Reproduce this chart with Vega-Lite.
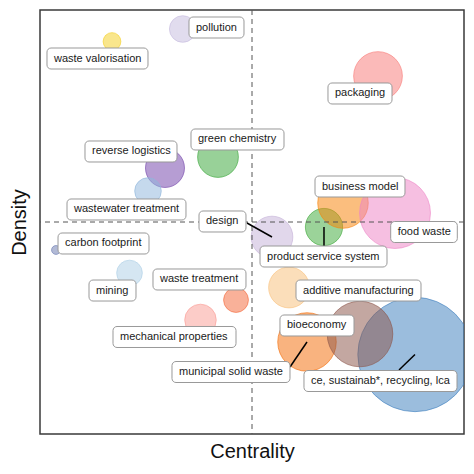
{
  "$schema": "https://vega.github.io/schema/vega-lite/v6.json",
  "width": 424,
  "height": 424,
  "autosize": "none",
  "padding": {"left": 40, "top": 10, "right": 10, "bottom": 40},
  "background": "white",
  "config": {
    "view": {"stroke": "#3a3a3a", "strokeWidth": 1.5},
    "font": "Liberation Sans",
    "axis": {"domain": false, "ticks": false, "labels": false, "grid": false, "titleFontSize": 20, "titleFontWeight": "normal", "titleColor": "#111111", "titleFont": "Liberation Sans", "titleBaseline": "alphabetic"},
    "axisX": {"titlePadding": 23},
    "axisY": {"titlePadding": 15}
  },
  "data": {
    "values": [
      {"theme": "ce, sustainab*, recycling, lca", "centrality": 88.44, "density": 18.75, "docs": 4160, "lx1": 62.26, "lx2": 98.35, "ly": 12.50, "sx": 84.67, "sy": 15.09},
      {"theme": "municipal solid waste", "centrality": 62.97, "density": 21.70, "docs": 1089, "lx1": 31.13, "lx2": 58.96, "ly": 14.62, "sx": 58.96, "sy": 15.80},
      {"theme": "additive manufacturing", "centrality": 75.47, "density": 23.58, "docs": 1369, "lx1": 60.38, "lx2": 89.86, "ly": 33.84},
      {"theme": "bioeconomy", "centrality": 58.73, "density": 34.55, "docs": 529, "lx1": 56.60, "lx2": 74.06, "ly": 25.59},
      {"theme": "product service system", "centrality": 66.98, "density": 48.82, "docs": 441, "lx1": 51.89, "lx2": 81.84, "ly": 41.86, "sx": 66.98, "sy": 44.34},
      {"theme": "business model", "centrality": 71.46, "density": 54.48, "docs": 812, "lx1": 64.86, "lx2": 86.08, "ly": 58.37},
      {"theme": "food waste", "centrality": 83.73, "density": 52.12, "docs": 1600, "lx1": 82.71, "lx2": 98.42, "ly": 47.64},
      {"theme": "design", "centrality": 54.72, "density": 46.46, "docs": 552, "lx1": 37.50, "lx2": 48.58, "ly": 50.12, "sx": 48.82, "sy": 49.76},
      {"theme": "packaging", "centrality": 79.72, "density": 84.43, "docs": 756, "lx1": 67.92, "lx2": 83.02, "ly": 80.31},
      {"theme": "pollution", "centrality": 33.66, "density": 95.52, "docs": 225, "lx1": 35.14, "lx2": 48.11, "ly": 95.87},
      {"theme": "waste valorisation", "centrality": 16.98, "density": 92.57, "docs": 100, "lx1": 1.65, "lx2": 25.47, "ly": 88.56},
      {"theme": "green chemistry", "centrality": 41.98, "density": 65.33, "docs": 529, "lx1": 35.61, "lx2": 57.55, "ly": 69.46},
      {"theme": "reverse logistics", "centrality": 29.48, "density": 62.74, "docs": 484, "lx1": 10.61, "lx2": 32.31, "ly": 66.63},
      {"theme": "wastewater treatment", "centrality": 25.47, "density": 57.31, "docs": 225, "lx1": 6.37, "lx2": 34.43, "ly": 52.95},
      {"theme": "carbon footprint", "centrality": 3.77, "density": 43.40, "docs": 25, "lx1": 4.25, "lx2": 25.71, "ly": 44.93},
      {"theme": "mining", "centrality": 21.11, "density": 37.97, "docs": 210, "lx1": 11.56, "lx2": 22.64, "ly": 33.84},
      {"theme": "waste treatment", "centrality": 46.23, "density": 31.60, "docs": 196, "lx1": 26.65, "lx2": 48.58, "ly": 36.44},
      {"theme": "mechanical properties", "centrality": 37.85, "density": 26.89, "docs": 317, "lx1": 17.22, "lx2": 46.23, "ly": 22.88}
    ]
  },
  "layer": [
    {
      "mark": {"type": "circle", "clip": true, "opacity": 1, "fillOpacity": 0.52, "strokeOpacity": 0.62, "strokeWidth": 1},
      "encoding": {
        "x": {"field": "centrality", "type": "quantitative", "title": "Centrality", "scale": {"domain": [0, 100], "nice": false, "zero": false}},
        "y": {"field": "density", "type": "quantitative", "title": "Density", "scale": {"domain": [0, 100], "nice": false, "zero": false}},
        "size": {"field": "docs", "type": "quantitative", "scale": {"type": "linear", "domain": [0, 1000], "range": [0, 3141.6]}, "legend": null},
        "color": {"field": "theme", "type": "nominal", "legend": null, "scale": {
          "domain": ["ce, sustainab*, recycling, lca", "municipal solid waste", "additive manufacturing", "bioeconomy", "product service system", "business model", "food waste", "design", "packaging", "pollution", "waste valorisation", "green chemistry", "reverse logistics", "wastewater treatment", "carbon footprint", "mining", "waste treatment", "mechanical properties"],
          "range": ["#3f80be", "#f36e0a", "#8c564b", "#f8c07b", "#40aa3c", "#f88207", "#ee85c6", "#c5b2d9", "#f87b78", "#c6bbdf", "#f3cf22", "#3aa63a", "#7344aa", "#8fb6dc", "#6b7bb1", "#afd0e6", "#f3693c", "#fa9d96"]}},
        "stroke": {"field": "theme", "type": "nominal", "legend": null, "scale": {
          "domain": ["ce, sustainab*, recycling, lca", "municipal solid waste", "additive manufacturing", "bioeconomy", "product service system", "business model", "food waste", "design", "packaging", "pollution", "waste valorisation", "green chemistry", "reverse logistics", "wastewater treatment", "carbon footprint", "mining", "waste treatment", "mechanical properties"],
          "range": ["#3f80be", "#f36e0a", "#8c564b", "#f8c07b", "#40aa3c", "#f88207", "#ee85c6", "#c5b2d9", "#f87b78", "#c6bbdf", "#f3cf22", "#3aa63a", "#7344aa", "#8fb6dc", "#6b7bb1", "#afd0e6", "#f3693c", "#fa9d96"]}}
      }
    },
    {
      "data": {"values": [{}]},
      "mark": {"type": "rule", "strokeDash": [5, 4], "color": "#555555", "strokeWidth": 1},
      "encoding": {"x": {"datum": 50, "type": "quantitative", "title": "Centrality"}}
    },
    {
      "data": {"values": [{}]},
      "mark": {"type": "rule", "strokeDash": [5, 4], "color": "#555555", "strokeWidth": 1},
      "encoding": {"y": {"datum": 50, "type": "quantitative", "title": "Density"}}
    },
    {
      "transform": [{"filter": "datum.sx != null"}],
      "mark": {"type": "rule", "color": "#000000", "strokeWidth": 1.5, "clip": true},
      "encoding": {
        "x": {"field": "centrality", "type": "quantitative", "title": "Centrality"},
        "y": {"field": "density", "type": "quantitative", "title": "Density"},
        "x2": {"field": "sx"},
        "y2": {"field": "sy"}
      }
    },
    {
      "mark": {"type": "rect", "fill": "white", "stroke": "#999999", "strokeWidth": 1, "cornerRadius": 4, "yOffset": -10.5, "y2Offset": 10.5},
      "encoding": {
        "x": {"field": "lx1", "type": "quantitative", "title": "Centrality"},
        "x2": {"field": "lx2"},
        "y": {"field": "ly", "type": "quantitative", "title": "Density"},
        "y2": {"field": "ly"}
      }
    },
    {
      "mark": {"type": "text", "align": "left", "baseline": "middle", "dx": 7, "fontSize": 11, "font": "Liberation Sans", "color": "#1a1a1a"},
      "encoding": {
        "x": {"field": "lx1", "type": "quantitative", "title": "Centrality"},
        "y": {"field": "ly", "type": "quantitative", "title": "Density"},
        "text": {"field": "theme"}
      }
    }
  ]
}
